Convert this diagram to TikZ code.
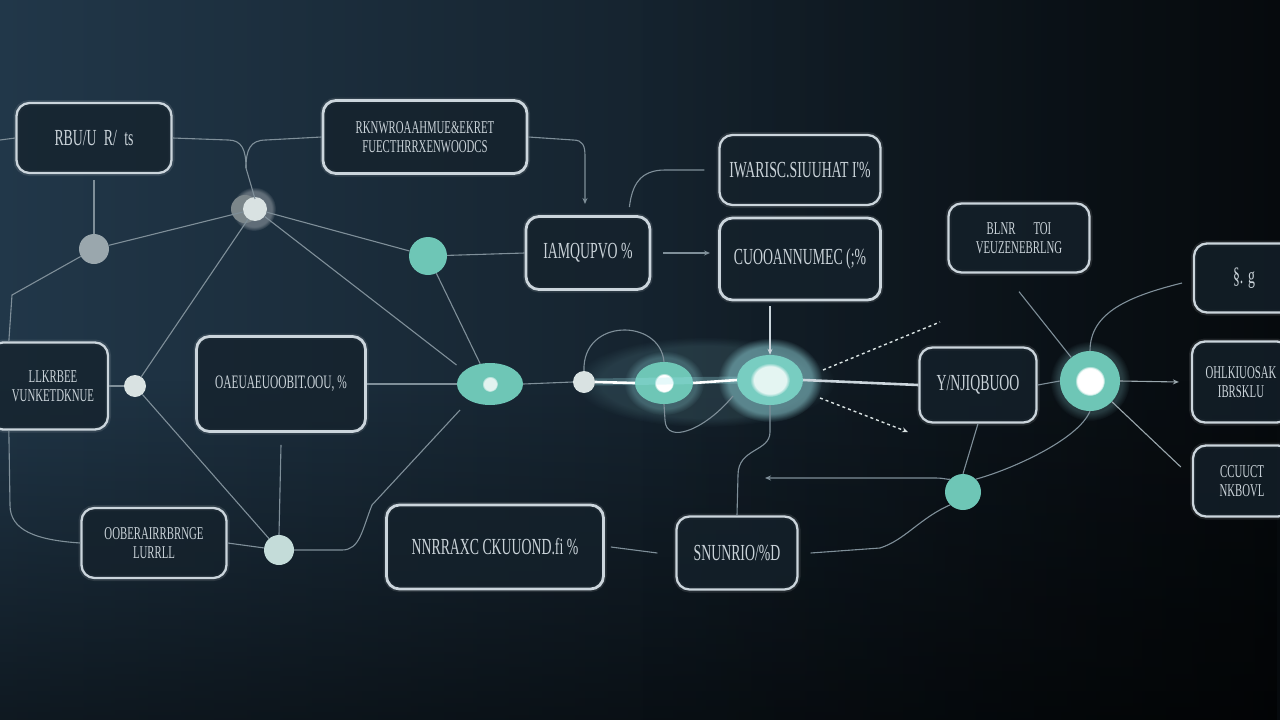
\documentclass[tikz,border=0pt]{standalone}
\usepackage{fontspec}
\newfontfamily\boxfnt{Liberation Serif}[FakeStretch=0.6]
\usetikzlibrary{arrows.meta,fadings,calc,shapes.geometric}
\definecolor{bgA}{HTML}{213749}
\definecolor{bgB}{HTML}{0A1015}
\definecolor{boxfill}{HTML}{15222C}
\definecolor{boxline}{HTML}{CBD5DC}
\definecolor{txt}{HTML}{CAD3D9}
\definecolor{tealc}{HTML}{6EC6B6}
\definecolor{linec}{HTML}{7F8F99}
\definecolor{palec}{HTML}{D9E2E2}
\definecolor{grayc}{HTML}{9AA7AD}
\definecolor{glowc}{HTML}{9FE8EE}
\begin{document}
\begin{tikzpicture}[x=1pt,y=-1pt,
  box/.style={draw=boxline, line width=2.3pt, rounded corners=13pt,
    fill=boxfill, fill opacity=0.75, text opacity=1, text=txt,
    font=\boxfnt\fontsize{23}{18}\selectfont, align=center, inner sep=0pt,
    preaction={draw=white, line width=6pt, draw opacity=0.10}},
  twoline/.style={font=\boxfnt\fontsize{18}{19}\selectfont},
  conn/.style={draw=linec, line width=1.1pt},
  tip/.style={-{Stealth[length=6pt,width=5pt]}},
  dot/.style={circle, inner sep=0pt, minimum size=#1},
  teald/.style={dot=#1, fill=tealc},
  oval/.style={ellipse, inner sep=0pt, fill=tealc}]
% background
\useasboundingbox (0,0) rectangle (1280,720);
\shade[left color=bgA, right color=bgB] (0,0) rectangle (1280,720);
\fill[black, path fading=north, fill opacity=0.55] (0,380) rectangle (1280,720);
\fill[black, path fading=west, fill opacity=0.35] (640,0) rectangle (1280,720);
\fill[glowc, path fading=circle with fuzzy edge 20 percent, fill opacity=0.12] (705,382) ellipse [x radius=130, y radius=45];

% boxes
\node[box, minimum width=155, minimum height=70] (A) at (94,138) {RBU/U\, R/\, ts};
\node[box, twoline, line width=2.8pt, minimum width=204, minimum height=73] (B) at (425,137) {RKNWROAAHMUE\&EKRET\\FUECTHRRXENWOODCS};
\node[box, minimum width=161, minimum height=70] (C) at (800,170) {IWARISC.SIUUHAT I'\%};
\node[box, line width=2.8pt, minimum width=124, minimum height=73] (D) at (588,253) {IAMQUPVO \%};
\node[box, line width=2.8pt, minimum width=161, minimum height=82] (E) at (800,259) {CUOOANNUMEC (;\%};
\node[box, twoline, minimum width=141, minimum height=69] (F) at (1019,238) {BLNR\quad TOI\\VEUZENEBRLNG};
\node[box, minimum width=100, minimum height=69] (G) at (1244,278) {\S. g};
\node[box, twoline, minimum width=118, minimum height=87] (H) at (49,386) {\hspace*{8pt}LLKRBEE\\\hspace*{8pt}VUNKETDKNUE};
\node[box, line width=2.8pt, minimum width=169, minimum height=95, font=\boxfnt\fontsize{19}{18}\selectfont] (I) at (281,384) {OAEUAEUOOBIT.OOU, \%};
\node[box, minimum width=117, minimum height=75] (J) at (978,385) {Y/NJIQBUOO};
\node[box, twoline, minimum width=98, minimum height=81] (K) at (1241,382) {OHLKIUOSAK\\IBRSKLU};
\node[box, twoline, minimum width=98, minimum height=71] (L) at (1242,481) {CCUUCT\\NKBOVL};
\node[box, twoline, minimum width=145, minimum height=70] (M) at (154,543) {OOBERAIRRBRNGE\\LURRLL};
\node[box, line width=2.8pt, minimum width=217, minimum height=84] (N) at (495,547) {NNRRAXC CKUUOND.fi \%};
\node[box, minimum width=121, minimum height=73] (O) at (737,553) {SNUNRIO/\%D};

% glows
\fill[glowc, path fading=circle with fuzzy edge 20 percent, fill opacity=0.45] (770,380) ellipse [x radius=52, y radius=42];
\fill[glowc, path fading=circle with fuzzy edge 20 percent, fill opacity=0.25] (664,383) ellipse [x radius=40, y radius=32];
\fill[glowc, path fading=circle with fuzzy edge 20 percent, fill opacity=0.2] (1090,381) circle [radius=40];
\fill[white, path fading=circle with fuzzy edge 20 percent, fill opacity=0.3] (254,209) circle [radius=22];

% dots
\node[dot=28, fill=grayc!80!black] (c1b) at (245,209) {};
\node[dot=24, fill=palec] (c1) at (255,209) {};
\node[dot=30, fill=grayc] (c2) at (94,249) {};
\node[teald=38] (c3) at (428,256) {};
\node[dot=22, fill=palec] (c4) at (135,386) {};
\node[oval, minimum width=66, minimum height=42] (c5) at (490,384) {};
\node[dot=22, fill=palec] (c6) at (584,382) {};
\node[oval, minimum width=58, minimum height=42] (c7) at (664,383) {};
\node[oval, minimum width=66, minimum height=50, fill=tealc!80!glowc] (c8) at (770,380) {};
\node[teald=60] (c9) at (1090,381) {};
\node[teald=36] (c10) at (963,492) {};
\node[dot=30, fill=palec!80!tealc] (c11) at (279,550) {};
\fill[white, path fading=circle with fuzzy edge 20 percent, fill opacity=0.8] (c5) circle [radius=8];
\fill[white, path fading=circle with fuzzy edge 20 percent] (c7) circle [radius=10];
\fill[white, path fading=circle with fuzzy edge 20 percent, fill opacity=0.8] (c8) ellipse [x radius=20, y radius=17];
\fill[white, path fading=circle with fuzzy edge 15 percent] (c9) circle [radius=15];

% coordinates
\coordinate (kB) at (246,168);
\coordinate (d1s) at (823,370);
\coordinate (d1e) at (940,322);
\coordinate (d2s) at (820,398);
\coordinate (d2e) at (908,432);
\coordinate (lft) at (765,478);
\coordinate (eS) at (770,306);
\coordinate (dE) at (663,253);
\coordinate (eW) at (710,253);

% connectors
\draw[conn] (0,140) -- (A.west);
\draw[conn] (A.east) -- (228,140) .. controls (242,140) and (246,150) .. (kB);
\draw[conn] (B.west) -- (266,140) .. controls (250,140) and (246,150) .. (kB) -- (c1b.north east);
\draw[conn, tip] (B.east) -- (573,140) .. controls (583,140) and (585,146) .. (585,156) -- (585,204);
\draw[conn] ([xshift=-22pt,yshift=8pt]D.north east) .. controls (632,185) and (640,170) .. (665,170) -- ([xshift=-14pt]C.west);
\draw[conn, tip] (dE) -- (eW);
\draw[conn, tip, line width=1.4pt, draw=boxline] (eS) -- (c8.north);
\draw[conn] (A.south) ++(0,6) -- (c2.north);
\draw[conn] (c1) -- (c2);
\draw[conn] (c1) -- (c3);
\draw[conn] (c1) -- (c4);
\draw[conn] (c1) -- ([xshift=-10pt,yshift=4pt]c5.north west);
\draw[conn] (c3) -- (c5);
\draw[conn] (c3) -- (D.west);
\draw[conn] (c2) -- (12,295) -- ($(H.north west)+(20,0)$);
\draw[conn] ($(H.south west)+(20,0)$) -- (10,505) .. controls (10,530) and (35,540) .. (M.west);
\draw[conn] (H.east) -- (c4);
\draw[conn] (c4) -- (c11);
\draw[conn] (M.east) -- (c11);
\draw[conn] ([yshift=-12pt]I.south) -- (c11.north);
\draw[conn] (c11.east) -- (342,550) .. controls (360,550) and (362,530) .. (372,505) -- (460,410);
\draw[conn] (I.east) -- (c5.west);
\draw[conn] (c5.east) -- (c6.west);
\draw[conn] (c6.north) .. controls (582,318) and (660,318) .. (c7.north);
\draw[conn] (c7.south) -- (665,420) .. controls (666,445) and (705,430) .. (733,396);
\draw[conn] (c8.south) -- (770,432) .. controls (770,452) and (738,448) .. (738,475) -- (O.north);
\draw[tip, dashed, draw=palec, line width=1.4pt] (d2s) -- (d2e);
\draw[draw=palec, dashed, line width=1.4pt] (d1s) -- (d1e);
\draw[conn] (J.east) -- (c9.west);
\draw[conn, tip, draw=grayc] (c9.east) -- ([xshift=-12pt]K.west);
\draw[conn, draw=grayc] (c9) -- ([xshift=-11pt,yshift=14pt]L.west);
\draw[conn] ([yshift=-18pt]F.south) -- (c9);
\draw[conn] (c9.north) .. controls (1090,312) and (1130,296) .. (1182,283);
\draw[conn] (c9.south) .. controls (1078,440) and (1010,470) .. (c10.north east);
\draw[conn] (J.south) -- (c10.north);
\draw[conn, tip] (c10.north west) .. controls (948,480) and (945,478) .. (935,478) -- (lft);
\draw[conn] (c10.south west) .. controls (920,518) and (905,540) .. (880,548) -- ([xshift=12pt]O.east);
\draw[conn] ([xshift=6pt]N.east) -- ([xshift=-18pt]O.west);
% bright line
\draw[glowc, line width=7pt, opacity=0.25] (c6.east) -- (c8.west);
\draw[white, line width=2.6pt] (c6.east) -- (c7.west);
\draw[white, line width=2.6pt] (c7.east) -- (c8.west);
\draw[boxline, line width=2.6pt] (c8.east) -- (J.west);
\end{tikzpicture}
\end{document}
